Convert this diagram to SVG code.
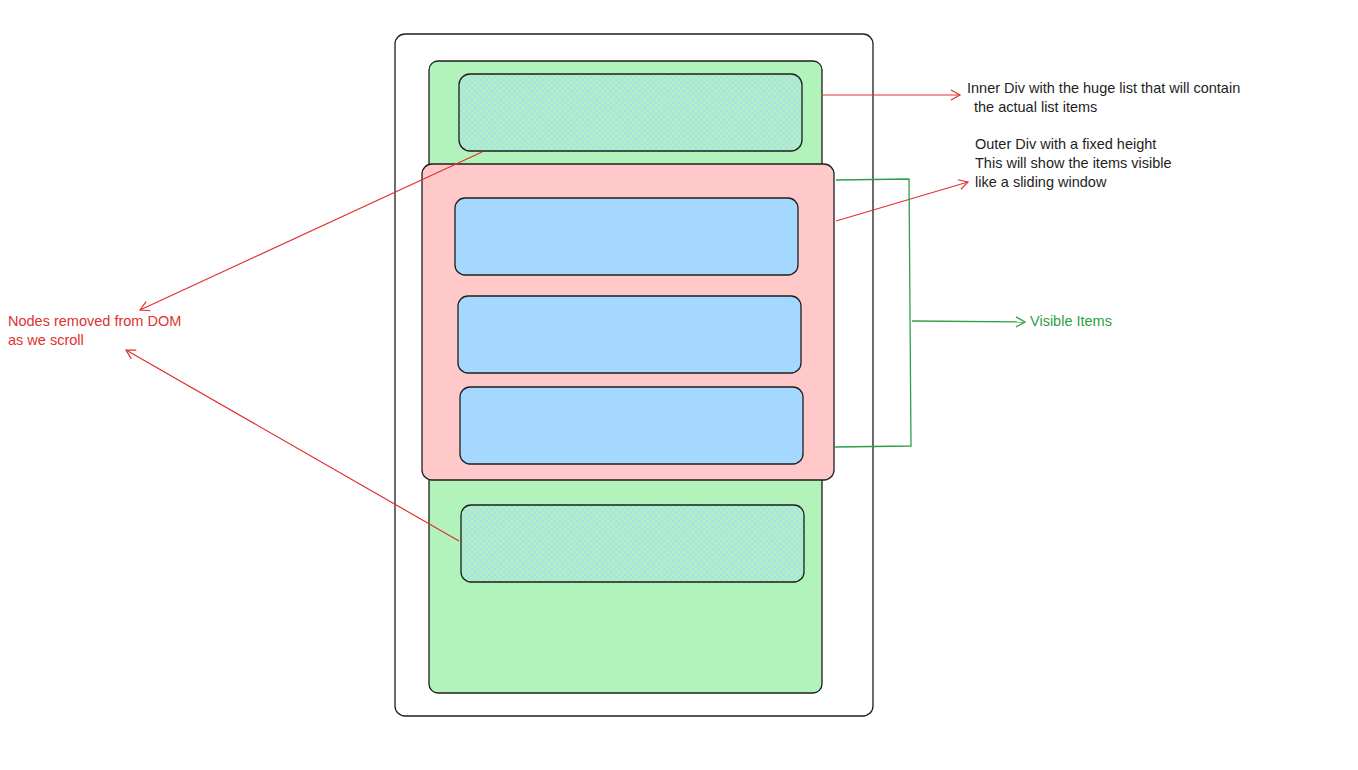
<svg xmlns="http://www.w3.org/2000/svg" width="1358" height="770" viewBox="0 0 1358 770">
<defs>
<style>
.b{stroke:#1e1e1e;stroke-width:1.3}
.t{font-family:"Liberation Sans",sans-serif;font-size:14.5px}
.r{stroke:#e03131;stroke-width:1.2;fill:none}
.g{stroke:#2f9e44;stroke-width:1.3;fill:none}
</style>
<pattern id="h" width="4" height="4" patternUnits="userSpaceOnUse" patternTransform="rotate(45)">
<rect width="4" height="4" fill="#b2f2bb"/>
<path d="M0 0V4M0 0H4" stroke="#a5d8ff" stroke-width="1.4"/>
</pattern>
<marker id="ar" markerWidth="12" markerHeight="12" refX="10" refY="6" orient="auto" markerUnits="userSpaceOnUse"><path d="M1 1L10 6L1 11" fill="none" stroke="#e03131" stroke-width="1.2"/></marker>
<marker id="ag" markerWidth="12" markerHeight="12" refX="10" refY="6" orient="auto" markerUnits="userSpaceOnUse"><path d="M1 1L10 6L1 11" fill="none" stroke="#2f9e44" stroke-width="1.3"/></marker>
</defs>
<rect width="1358" height="770" fill="#fff"/>
<g id="frame"><rect class="b" x="395" y="34" width="478" height="682" rx="10" fill="#fff"/></g>
<g id="inner-div"><rect class="b" x="429" y="61" width="393" height="632" rx="9" fill="#b2f2bb"/></g>
<g id="removed-top"><rect class="b" x="459" y="74" width="343" height="77" rx="11" fill="url(#h)"/></g>
<g id="outer-div"><rect class="b" x="422" y="164" width="412" height="316" rx="10" fill="#ffc9c9"/></g>
<g id="item1"><rect class="b" x="455" y="198" width="343" height="77" rx="10" fill="#a5d8ff"/></g>
<g id="item2"><rect class="b" x="458" y="296" width="343" height="77" rx="10" fill="#a5d8ff"/></g>
<g id="item3"><rect class="b" x="460" y="387" width="343" height="77" rx="10" fill="#a5d8ff"/></g>
<g id="removed-bottom"><rect class="b" x="461" y="505" width="343" height="77" rx="10" fill="url(#h)"/></g>
<g id="connectors">
<path class="r" d="M823 95L960 95" marker-end="url(#ar)"/>
<path class="r" d="M836 221L968 182" marker-end="url(#ar)"/>
<path class="r" d="M482 152L140 310" marker-end="url(#ar)"/>
<path class="r" d="M459 541L126 350" marker-end="url(#ar)"/>
<path class="g" d="M836 180L909 179L911 446L835 447"/>
<path class="g" d="M912 321L1025 322" marker-end="url(#ag)"/>
</g>
<g id="labels" class="t">
<text x="967" y="93" fill="#1e1e1e">Inner Div with the huge list that will contain</text>
<text x="974" y="112" fill="#1e1e1e">the actual list items</text>
<text x="975" y="149" fill="#1e1e1e">Outer Div with a fixed height</text>
<text x="975" y="168" fill="#1e1e1e">This will show the items visible</text>
<text x="975" y="187" fill="#1e1e1e">like a sliding window</text>
<text x="1030" y="326" fill="#2f9e44">Visible Items</text>
<text x="8" y="326" fill="#e03131">Nodes removed from DOM</text>
<text x="8" y="345" fill="#e03131">as we scroll</text>
</g>
</svg>
